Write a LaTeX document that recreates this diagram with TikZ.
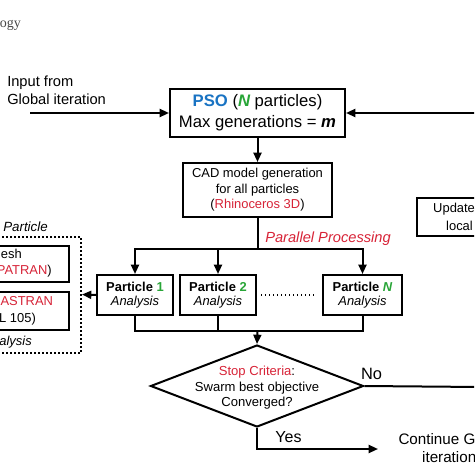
\documentclass[tikz,border=0pt]{standalone}
\usepackage{fontspec}
\setmainfont{Liberation Sans}
\newfontfamily\serifhead{Liberation Serif}
\usetikzlibrary{arrows.meta,shapes.geometric}
\definecolor{psoblue}{RGB}{25,115,195}
\definecolor{pgreen}{RGB}{40,165,55}
\definecolor{pred}{RGB}{215,35,55}
\definecolor{headgray}{RGB}{70,70,70}
\begin{document}
\begin{tikzpicture}[x=0.75pt,y=-0.75pt,
  box/.style={draw=black, line width=1.5pt, inner sep=0pt, align=center, fill=white},
  conn/.style={line width=1.5pt, black},
  arr/.style={conn, -{Triangle[length=7pt,width=6pt]}},
  txt/.style={inner sep=0pt, align=center},
  fa/.style={font=\fontsize{9.7}{11.6}\selectfont},
  fp/.style={font=\fontsize{9.7}{10.8}\selectfont},
  dotbox/.style={draw=black, line width=1.5pt, dash pattern=on 1.5pt off 1.5pt, inner sep=0pt},
  dotline/.style={line width=1.1pt, dash pattern=on 1.1pt off 1.9pt}
]
\useasboundingbox (0,0) rectangle (474,474);
\clip (0,0) rectangle (474,474);

% header fragment
\node[txt, anchor=base east, font=\serifhead\fontsize{10.5}{12}\selectfont, text=headgray] (head) at (21,28) {Technology};

% input
\node[txt, anchor=west, align=left, font=\fontsize{11}{13.5}\selectfont] (inputtxt) at (7,90) {Input from\\Global iteration};
\coordinate (inp) at (30,113);
\node[box, minimum width=131.25pt, minimum height=36pt, font=\fontsize{12.5}{15.75}\selectfont] (pso) at (257.5,113)
  {\textbf{\color{psoblue}PSO} (\textbf{\textit{\color{pgreen}N}} particles)\\Max generations = \textbf{\textit{m}}};
\coordinate (rin) at (480,113);
\draw[arr] (inp) -- (pso.west);
\draw[arr] (rin) -- (pso.east);

% CAD
\node[box, minimum width=111.75pt, minimum height=40.5pt, fa] (cad) at (257.5,190)
  {CAD model generation\\for all particles\\({\color{pred}Rhinoceros 3D})};
\draw[arr] (pso.south) -- (cad.north);

\coordinate (bus1) at (257.5,249);
\draw[conn] (cad.south) -- (bus1);
\node[txt, anchor=west, font=\itshape\fontsize{11}{13}\selectfont, text=pred] (par) at (265,239) {Parallel Processing};

% particles
\node[box, minimum width=57pt, minimum height=30pt, fp] (p1) at (135,295) {\textbf{Particle {\color{pgreen}1}}\\\textit{Analysis}};
\node[box, minimum width=57pt, minimum height=30pt, fp] (p2) at (218,295) {\textbf{Particle {\color{pgreen}2}}\\\textit{Analysis}};
\node[box, minimum width=59.25pt, minimum height=30pt, fp] (pN) at (362.5,295) {\textbf{Particle \textit{\color{pgreen}N}}\\\textit{Analysis}};
\draw[arr] (bus1) -| (p1.north);
\draw[arr] (bus1) -| (p2.north);
\draw[arr] (bus1) -| (pN.north);
\draw[dotline, shorten <=3pt, shorten >=4.5pt] (p2.east) -- (pN.west);

\coordinate (bus2) at (257.5,331);
\draw[conn] (p1.south) |- (bus2);
\draw[conn] (p2.south) |- (bus2);
\draw[conn] (pN.south) |- (bus2);

% decision
\node[diamond, draw=black, line width=1.5pt, inner sep=0pt, minimum width=159.75pt, minimum height=61.5pt] (stop) at (257,386) {};
\node[txt, font=\fontsize{9.8}{11.6}\selectfont] (stoptxt) at (257,388) {{\color{pred}Stop Criteria}:\\Swarm best objective\\Converged?};
\draw[arr] (bus2) -- (stop.north);

\node[txt, font=\fontsize{12.3}{14}\selectfont] (no) at (371.5,374) {No};
\coordinate (noend) at (480,387);
\draw[conn] (stop.east) -- (noend);

\node[txt, font=\fontsize{12}{14}\selectfont] (yes) at (288.5,437) {Yes};
\coordinate (yesend) at (378,449);
\draw[arr] (stop.south) |- (yesend);
\node[txt, font=\fontsize{11.4}{13.5}\selectfont] (cont) at (453,448) {Continue Global\\iterations};

% update box (right)
\node[box, minimum width=84.75pt, minimum height=28.5pt, font=\fontsize{9.7}{13.3}\selectfont] (update) at (473.5,217) {Update-global\\local best};

% left per-particle block
\node[dotbox, minimum width=98.25pt, minimum height=87pt] (perp) at (15.5,294.5) {};
\node[txt, anchor=east, font=\itshape\fontsize{10}{12}\selectfont] (perlbl) at (48,227) {Per Particle};
\node[box, minimum width=94.5pt, minimum height=27pt, font=\fontsize{9.7}{12}\selectfont] (mesh) at (6,263.5) {Mesh\\({\color{pred}MSC PATRAN})};
\node[box, minimum width=94.5pt, minimum height=28.5pt, font=\fontsize{9.7}{12.5}\selectfont] (nast) at (6,311) {{\color{pred}MSC NASTRAN}\\(SOL 105)};
\node[txt, anchor=east, font=\itshape\fontsize{9.7}{12}\selectfont] (analbl) at (32,342) {Analysis};
\draw[arr] (p1.west) -- (perp.east);
\end{tikzpicture}
\end{document}
